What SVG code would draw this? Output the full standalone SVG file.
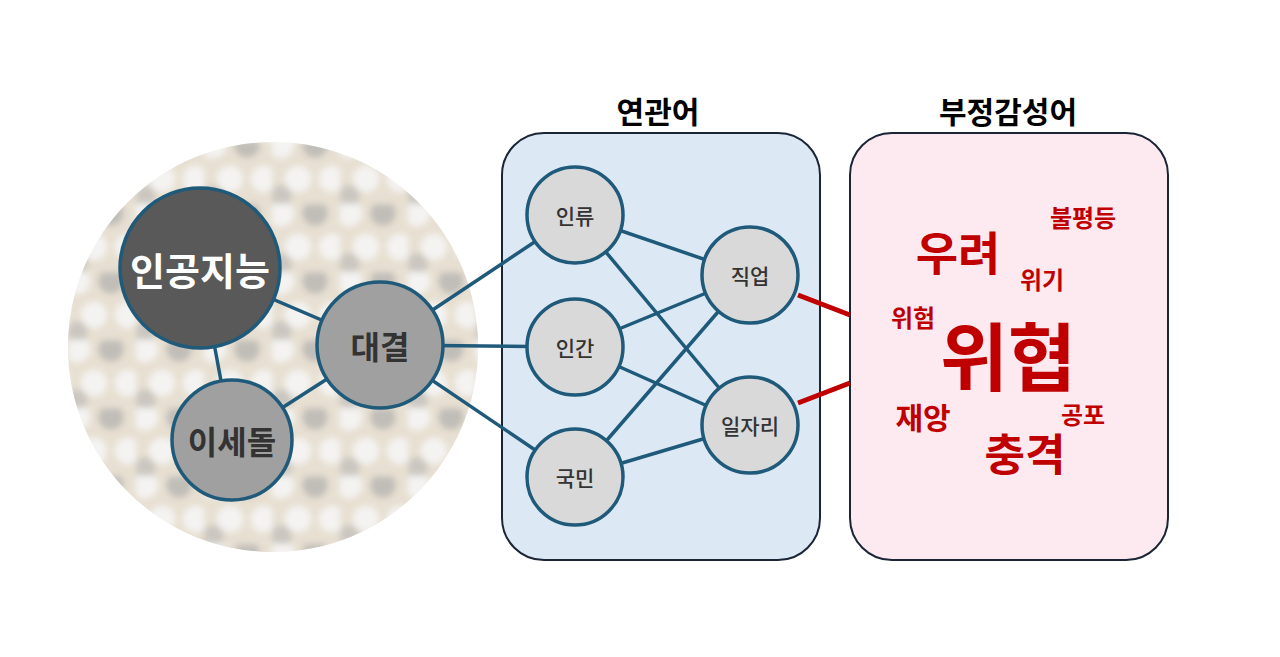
<svg xmlns="http://www.w3.org/2000/svg" width="1280" height="657" viewBox="0 0 1280 657">
<style>
text{font-family:"Noto Sans CJK KR","Noto Sans",sans-serif;text-anchor:middle;dominant-baseline:central}
.n{stroke:#1f5a7a;stroke-width:3.5}
.s{fill:#d9d9d9}
.st{font-size:21px;fill:#333;font-weight:500}
.r{fill:#c00000;font-weight:bold}
</style>
<defs>
<pattern id="go" width="68" height="68" patternUnits="userSpaceOnUse">
<rect width="68" height="68" fill="#d8cbb4"/>
<circle cx="9" cy="9" r="13" fill="#f2f2f2" opacity="0.85"/>
<circle cx="43" cy="9" r="13" fill="#6e6e6e" opacity="0.6"/>
<circle cx="26" cy="43" r="13" fill="#f2f2f2" opacity="0.85"/>
<circle cx="60" cy="43" r="13" fill="#f2f2f2" opacity="0.85"/>
<circle cx="9" cy="60" r="11" fill="#7a7a7a" opacity="0.5"/>
</pattern>
<filter id="b"><feGaussianBlur stdDeviation="3"/></filter>
<clipPath id="c"><circle cx="273" cy="347" r="205"/></clipPath>
</defs>
<rect width="1280" height="657" fill="#fff"/>
<g clip-path="url(#c)"><rect x="60" y="140" width="430" height="420" fill="url(#go)" filter="url(#b)" opacity="0.8"/><circle cx="273" cy="347" r="205" fill="#fff" opacity="0.25"/></g>
<rect x="502" y="133" width="318" height="427" rx="42" fill="#dce9f5" stroke="#1a2535" stroke-width="2"/>
<rect x="850" y="133" width="318" height="427" rx="42" fill="#fdeaf1" stroke="#1a2535" stroke-width="2"/>
<text x="658" y="110" font-size="30" font-weight="bold">연관어</text>
<text x="1008" y="110" font-size="30" font-weight="bold">부정감성어</text>
<g id="connectors" stroke="#1f5a7a" stroke-width="3.5">
<line x1="200" y1="268" x2="380" y2="345"/><line x1="200" y1="268" x2="232" y2="440"/><line x1="232" y1="440" x2="380" y2="345"/>
<line x1="380" y1="345" x2="575" y2="215"/><line x1="380" y1="345" x2="575" y2="347"/><line x1="380" y1="345" x2="575" y2="477"/>
<line x1="575" y1="215" x2="750" y2="275"/><line x1="575" y1="215" x2="750" y2="425"/>
<line x1="575" y1="347" x2="750" y2="275"/><line x1="575" y1="347" x2="750" y2="425"/>
<line x1="575" y1="477" x2="750" y2="275"/><line x1="575" y1="477" x2="750" y2="425"/>
<line x1="798" y1="295" x2="850" y2="315" stroke="#c00000" stroke-width="5"/>
<line x1="798" y1="403" x2="850" y2="383" stroke="#c00000" stroke-width="5"/>
</g>
<g id="n1"><circle class="n" cx="200" cy="268" r="80" fill="#595959"/><text x="200" y="268" font-size="38" font-weight="bold" fill="#fff">인공지능</text></g>
<g id="n2"><circle class="n" cx="232" cy="440" r="60" fill="#a0a0a0"/><text x="232" y="440" font-size="32" font-weight="bold" fill="#333">이세돌</text></g>
<g id="n3"><circle class="n" cx="380" cy="345" r="63" fill="#a0a0a0"/><text x="380" y="345" font-size="32" font-weight="bold" fill="#333">대결</text></g>
<g id="n4"><circle class="n s" cx="575" cy="215" r="48"/><text class="st" x="575" y="215">인류</text></g>
<g id="n5"><circle class="n s" cx="575" cy="347" r="48"/><text class="st" x="575" y="347">인간</text></g>
<g id="n6"><circle class="n s" cx="575" cy="477" r="48"/><text class="st" x="575" y="477">국민</text></g>
<g id="n7"><circle class="n s" cx="750" cy="275" r="48"/><text class="st" x="750" y="275">직업</text></g>
<g id="n8"><circle class="n s" cx="750" cy="425" r="48"/><text class="st" x="750" y="425">일자리</text></g>
<g id="words">
<text class="r" x="1083" y="216" font-size="24">불평등</text>
<text class="r" x="958" y="250" font-size="46">우려</text>
<text class="r" x="1042" y="278" font-size="24">위기</text>
<text class="r" x="913" y="316" font-size="24">위험</text>
<text class="r" x="1008" y="352" font-size="74">위협</text>
<text class="r" x="923" y="416" font-size="30">재앙</text>
<text class="r" x="1083" y="413" font-size="24">공포</text>
<text class="r" x="1025" y="452" font-size="44">충격</text>
</g>
</svg>
